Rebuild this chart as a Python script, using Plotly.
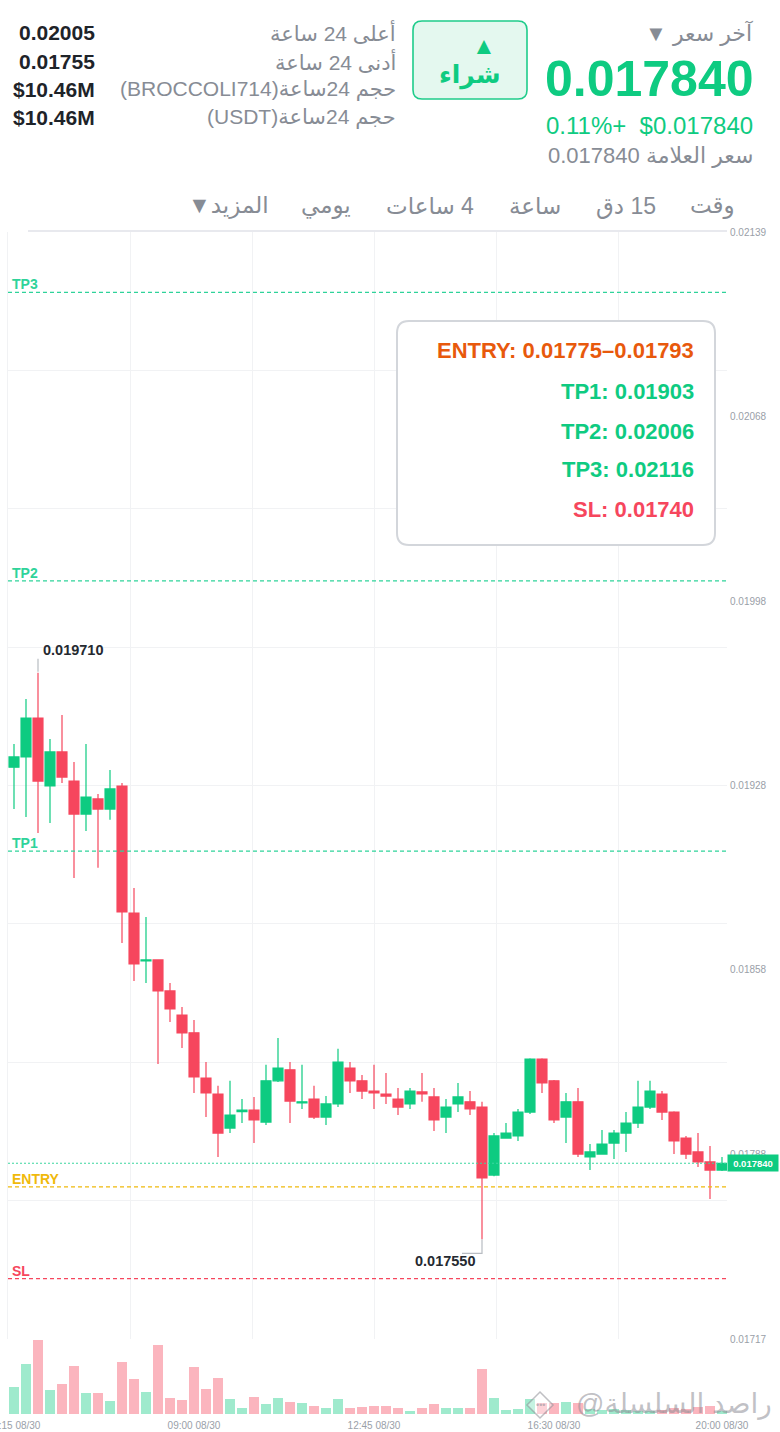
import plotly.graph_objects as go
import pandas as pd

# ---------------- data ----------------
times = pd.date_range("2025-08-30 05:15", periods=60, freq="15min")

opens = [0.019350, 0.019389, 0.019537, 0.019278, 0.019408, 0.019297, 0.019171, 0.019229, 0.019190, 0.019278,
         0.018794, 0.018611, 0.018615, 0.018497, 0.018405, 0.018337, 0.018165, 0.018104, 0.017974, 0.018037,
         0.018043, 0.017997, 0.018154, 0.018196, 0.018070, 0.018085, 0.018016, 0.018066, 0.018203, 0.018154,
         0.018115, 0.018104, 0.018085, 0.018066, 0.018112, 0.018093, 0.018016, 0.018066, 0.018074, 0.018054,
         0.017795, 0.017936, 0.017944, 0.018035, 0.018237, 0.018154, 0.018016, 0.018074, 0.017864, 0.017875,
         0.017917, 0.017955, 0.017993, 0.018054, 0.018104, 0.018035, 0.017936, 0.017883, 0.017845, 0.017814]
highs = [0.019438, 0.019610, 0.019710, 0.019457, 0.019549, 0.019370, 0.019438, 0.019248, 0.019339, 0.019290,
         0.018889, 0.018779, 0.018618, 0.018527, 0.018436, 0.018386, 0.018226, 0.018135, 0.018154, 0.018085,
         0.018093, 0.018215, 0.018317, 0.018226, 0.018215, 0.018135, 0.018096, 0.018276, 0.018226, 0.018176,
         0.018215, 0.018184, 0.018127, 0.018127, 0.018184, 0.018127, 0.018085, 0.018146, 0.018115, 0.018074,
         0.017955, 0.017993, 0.018047, 0.018240, 0.018240, 0.018157, 0.018108, 0.018127, 0.017913, 0.017967,
         0.017967, 0.018035, 0.018154, 0.018154, 0.018115, 0.018038, 0.017944, 0.017955, 0.017906, 0.017864]
lows = [0.019190, 0.019160, 0.019099, 0.019137, 0.019290, 0.018927, 0.019107, 0.018966, 0.019149, 0.018680,
        0.018535, 0.018527, 0.018218, 0.018378, 0.018279, 0.018108, 0.018016, 0.017864, 0.017955, 0.017993,
        0.017917, 0.017986, 0.018150, 0.017993, 0.018047, 0.018009, 0.017986, 0.018054, 0.018108, 0.018085,
        0.018047, 0.018066, 0.018024, 0.018047, 0.018074, 0.017963, 0.017955, 0.018035, 0.018024, 0.017550,
        0.017790, 0.017933, 0.017925, 0.018028, 0.018108, 0.017993, 0.017917, 0.017864, 0.017814, 0.017872,
        0.017856, 0.017883, 0.017974, 0.018047, 0.018005, 0.017875, 0.017856, 0.017826, 0.017704, 0.017810]
closes = [0.019389, 0.019537, 0.019297, 0.019408, 0.019312, 0.019171, 0.019236, 0.019190, 0.019267, 0.018798,
          0.018600, 0.018615, 0.018497, 0.018428, 0.018337, 0.018169, 0.018108, 0.017955, 0.018024, 0.018043,
          0.018005, 0.018154, 0.018203, 0.018077, 0.018074, 0.018016, 0.018066, 0.018226, 0.018154, 0.018115,
          0.018108, 0.018096, 0.018054, 0.018115, 0.018104, 0.018005, 0.018054, 0.018093, 0.018047, 0.017784,
          0.017944, 0.017955, 0.018035, 0.018237, 0.018146, 0.018005, 0.018074, 0.017875, 0.017883, 0.017913,
          0.017955, 0.017993, 0.018054, 0.018115, 0.018035, 0.017925, 0.017875, 0.017845, 0.017814, 0.017840]
volumes = [270, 500, 740, 240, 300, 480, 210, 210, 130, 520,
           350, 220, 690, 160, 140, 470, 250, 360, 150, 60,
           170, 100, 160, 120, 110, 80, 60, 150, 60, 70,
           80, 80, 60, 30, 60, 100, 60, 60, 60, 450,
           160, 40, 50, 150, 110, 110, 120, 110, 50, 40,
           50, 40, 30, 30, 40, 60, 50, 70, 80, 30]

price_tick_vals = [0.017170, 0.017873, 0.018577, 0.019280, 0.019983, 0.020687, 0.021390]
price_tick_text = ["0.01717", "0.01788", "0.01858", "0.01928", "0.01998", "0.02068", "0.02139"]
price_grid_vals = [0.0171700, 0.0176975, 0.0182250, 0.0187525, 0.0192800, 0.0198075, 0.0203350, 0.0208625, 0.0213900]
time_tick_vals = ["2025-08-30 05:15", "2025-08-30 09:00", "2025-08-30 12:45", "2025-08-30 16:30", "2025-08-30 20:00"]
time_tick_text = ["05:15 08/30", "09:00 08/30", "12:45 08/30", "16:30 08/30", "20:00 08/30"]
time_grid_vals = ["2025-08-30 07:40", "2025-08-30 10:12:30", "2025-08-30 12:45", "2025-08-30 15:17:30", "2025-08-30 17:50"]
x_range = ["2025-08-30 05:07:30", "2025-08-30 20:06:15"]
y_range = [0.01717, 0.02139]

level_names = ["TP3", "TP2", "TP1", "ENTRY", "SL"]
level_values = [0.02116, 0.02006, 0.01903, 0.01775, 0.01740]
last_price = 0.017840
high_idx, low_idx = 2, 39

# ---------------- style ----------------
W, H = 780, 1432
GREEN = "#0ecb81"
RED = "#f6465d"
GRAY = "#878c95"
DARK = "#1e2329"
FONT = "Liberation Sans, DejaVu Sans, Arial, sans-serif"
level_colors = ["#2fd39a", "#2fd39a", "#2fd39a", "#f0b90b", "#f6465d"]
LRM = "\u200e"


def px(x):
    return x / W


def py(y):
    return 1 - y / H


fig = go.Figure()

fig.add_trace(go.Candlestick(
    x=times, open=opens, high=highs, low=lows, close=closes,
    increasing=dict(line=dict(color=GREEN, width=1.2), fillcolor=GREEN),
    decreasing=dict(line=dict(color=RED, width=1.2), fillcolor=RED),
    whiskerwidth=0, xaxis="x", yaxis="y", hoverinfo="skip",
))

vol_colors = ["rgba(14,203,129,0.40)" if c >= o else "rgba(246,70,93,0.40)" for o, c in zip(opens, closes)]
fig.add_trace(go.Bar(
    x=times, y=volumes, marker=dict(color=vol_colors, line=dict(width=0)),
    width=750000, xaxis="x", yaxis="y2", hoverinfo="skip",
))

# empty trace to carry the grid axes
fig.add_trace(go.Scatter(x=[], y=[], xaxis="x3", yaxis="y3", hoverinfo="skip"))

xdom = [px(8), px(727)]
price_dom = [py(1339), py(232)]
vol_dom = [py(1414), py(1340)]

fig.update_layout(
    width=W, height=H, margin=dict(l=0, r=0, t=0, b=0, autoexpand=False),
    paper_bgcolor="white", plot_bgcolor="white", showlegend=False,
    font=dict(family=FONT),
    boxgap=0.1, boxgroupgap=0.08,
    xaxis=dict(type="date", domain=xdom, range=x_range, anchor="y2", automargin=False,
               tickvals=time_tick_vals, ticktext=time_tick_text,
               tickfont=dict(size=10, color="#9aa0a8"), ticks="", ticklabelstandoff=4,
               showgrid=False, zeroline=False, showline=False,
               ticklabeloverflow="allow", rangeslider=dict(visible=False), fixedrange=True),
    yaxis=dict(domain=price_dom, range=y_range, anchor="x", side="right", automargin=False,
               tickvals=price_tick_vals, ticktext=price_tick_text,
               tickfont=dict(size=10, color="#9aa0a8"), ticks="", ticklabelstandoff=2,
               ticklabeloverflow="allow",
               showgrid=False, zeroline=False, showline=False, fixedrange=True),
    yaxis2=dict(domain=vol_dom, range=[0, 740], anchor="x", showticklabels=False, automargin=False,
                showgrid=False, zeroline=False, showline=False, fixedrange=True),
    xaxis3=dict(type="date", overlaying="x", range=x_range, anchor="y3", automargin=False,
                tickvals=time_grid_vals, showticklabels=False, ticks="",
                showgrid=True, gridcolor="#f1f2f4", gridwidth=1, zeroline=False, showline=False),
    yaxis3=dict(overlaying="y", range=y_range, anchor="x3", side="left", automargin=False,
                tickvals=price_grid_vals, showticklabels=False, ticks="",
                showgrid=True, gridcolor="#f1f2f4", gridwidth=1, zeroline=False,
                showline=True, linecolor="#f1f2f4", linewidth=1),
)

shapes = []
annotations = []


def txt(text, x, y, size, color, anchor="right", bold=False):
    annotations.append(dict(
        text=f"<b>{text}</b>" if bold else text, xref="paper", yref="paper",
        x=px(x), y=py(y), xanchor=anchor, yanchor="middle", showarrow=False,
        font=dict(size=size, color=color, family=FONT)))


def rounded_rect(x0, y0, x1, y1, r, fill, line, lw):
    rx, ry = r / W, r / H
    a0, a1, b0, b1 = px(x0), px(x1), py(y1), py(y0)
    path = (f"M{a0+rx},{b0} L{a1-rx},{b0} Q{a1},{b0} {a1},{b0+ry} "
            f"L{a1},{b1-ry} Q{a1},{b1} {a1-rx},{b1} L{a0+rx},{b1} "
            f"Q{a0},{b1} {a0},{b1-ry} L{a0},{b0+ry} Q{a0},{b0} {a0+rx},{b0} Z")
    shapes.append(dict(type="path", xref="paper", yref="paper", path=path,
                       fillcolor=fill, line=dict(color=line, width=lw), layer="above"))


# ---- header ----
txt("▼ آخر سعر", 755, 33, 22, GRAY)
txt("<b>0.017840</b>", 756, 79, 50, GREEN)
txt("0.11%+&nbsp;&nbsp;$0.017840", 755, 125, 24, GREEN)
txt("سعر العلامة 0.017840", 755, 156, 22, GRAY)

rounded_rect(413, 21, 527, 99, 9, "#e4f8ef", "#1fcc8b", 1.6)
txt("▲", 484, 45, 24, GREEN, anchor="center")
txt("<b>شراء</b>", 470, 75, 25, GREEN, anchor="center")

mid_labels = ["أعلى 24 ساعة", "أدنى 24 ساعة", "(BROCCOLI714)حجم 24ساعة", "(USDT)حجم 24ساعة"]
left_values = ["0.02005", "0.01755", "$10.46M", "$10.46M"]
for i, (lab, val) in enumerate(zip(mid_labels, left_values)):
    yy = 33 + i * 28
    txt(lab, 398, yy, 21, GRAY)
    txt(val, 97, yy, 21, DARK, bold=True)

tabs = [("وقت", 712), ("دق" + LRM + " 15", 626), ("ساعة", 535), ("ساعات" + LRM + " 4", 430),
        ("يومي", 326), ("▼المزيد", 228)]
for t, cx in tabs:
    txt(t, cx, 206, 23, GRAY, anchor="center")

shapes.append(dict(type="line", xref="paper", yref="paper", x0=px(28), x1=px(727),
                   y0=py(231), y1=py(231), line=dict(color="#e8e9ee", width=2)))

# ---- level lines ----
for name, val, col in zip(level_names, level_values, level_colors):
    shapes.append(dict(type="line", xref="x domain", yref="y", x0=0, x1=1, y0=val, y1=val,
                       line=dict(color=col, width=1.1, dash="4px,3px")))
    annotations.append(dict(text=f"<b>{name}</b>", xref="x domain", yref="y", x=0.003, y=val,
                            xanchor="left", yanchor="bottom", yshift=-2, showarrow=False,
                            font=dict(size=14, color=col, family=FONT)))

# last price line & tag
shapes.append(dict(type="line", xref="x domain", yref="y", x0=0, x1=1, y0=last_price, y1=last_price,
                   line=dict(color="#3dd6a0", width=1.2, dash="2px,2px")))
annotations.append(dict(text="<b>0.017840</b>", xref="paper", yref="y", x=px(727), y=last_price,
                        xanchor="left", yanchor="middle", showarrow=False, bgcolor=GREEN,
                        width=48, height=14, borderpad=1,
                        font=dict(size=9.5, color="white", family=FONT)))

# high / low markers
hx, hy = times[high_idx], highs[high_idx]
lx, ly = times[low_idx], lows[low_idx]
shapes.append(dict(type="line", xref="x", yref="y", xsizemode="scaled", ysizemode="pixel",
                   x0=hx, x1=hx, yanchor=hy, y0=1, y1=14, line=dict(color="#b8bcc2", width=1.2)))
shapes.append(dict(type="path", xref="x", yref="y", xsizemode="pixel", ysizemode="pixel",
                   xanchor=lx, yanchor=ly, path="M0,0 L0,-14 L-20,-14",
                   line=dict(color="#b8bcc2", width=1.2)))
annotations.append(dict(text=f"<b>{hy:.6f}</b>", xref="x", yref="y", x=hx, y=hy, xshift=35, yshift=23,
                        showarrow=False, font=dict(size=14.5, color="#252930", family=FONT)))
annotations.append(dict(text=f"<b>{ly:.6f}</b>", xref="x", yref="y", x=lx, y=ly, xshift=-37, yshift=-22,
                        showarrow=False, font=dict(size=14.5, color="#252930", family=FONT)))

# ---- info box ----
rounded_rect(397, 321, 715, 545, 12, "white", "#d3d6db", 2)
box_lines = [("ENTRY: 0.01775–0.01793", "#e8590c", 351), ("TP1: 0.01903", GREEN, 391),
             ("TP2: 0.02006", GREEN, 431), ("TP3: 0.02116", GREEN, 469), ("SL: 0.01740", RED, 509)]
for t, c, yy in box_lines:
    txt(t, 696, yy, 22, c, bold=True)

# ---- watermark ----
wm = "rgba(140,140,148,0.55)"
shapes.append(dict(type="path", xref="paper", yref="paper",
                   path=f"M{px(540)},{py(1392)} L{px(553)},{py(1405)} L{px(540)},{py(1418)} L{px(527)},{py(1405)} Z",
                   line=dict(color=wm, width=1.5), fillcolor="rgba(255,255,255,0.4)", layer="above"))
txt("•••", 540, 1405, 9, wm, anchor="center")
txt("@راصد السلسلة", 774, 1404, 28, wm)

fig.update_layout(shapes=shapes, annotations=annotations)
fig.write_html("out.html", config={"displayModeBar": False, "staticPlot": True},
               post_script="document.body.style.margin='0';document.body.style.overflow='hidden';")
